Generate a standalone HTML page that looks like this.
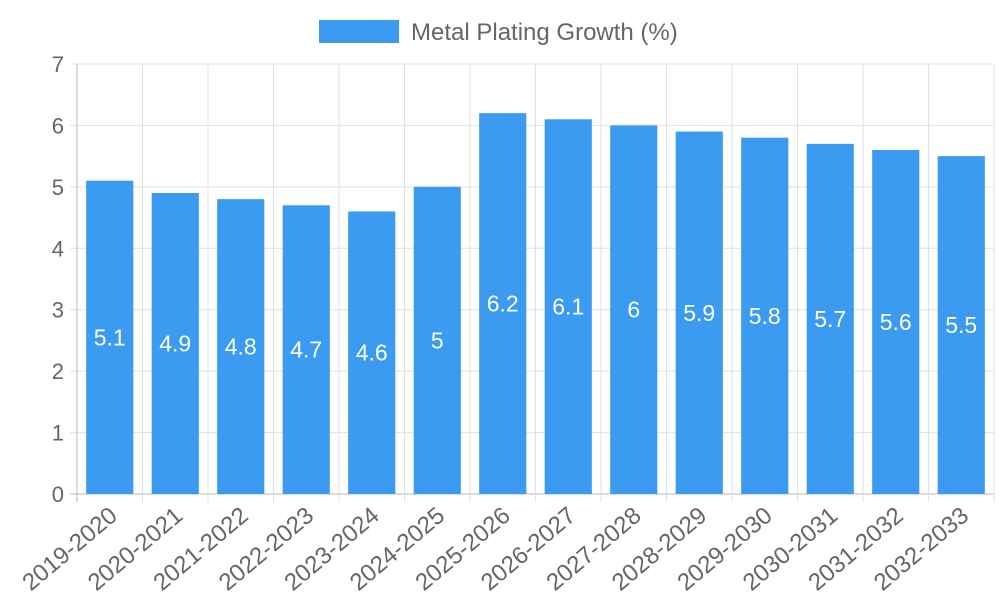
<!DOCTYPE html>
<html><head><meta charset="utf-8"><style>
body{margin:0;background:#fff;}
svg text{font-family:"Liberation Sans",sans-serif;}
</style></head><body>
<svg id="chart" width="1000" height="600" xmlns="http://www.w3.org/2000/svg">
<g id="legend">
<rect x="319" y="20" width="80" height="23" fill="#3a9bf0"/>
<text x="411" y="40" font-size="24" fill="#666">Metal Plating Growth (%)</text>
</g>
<g id="grid"></g><g id="bars"></g><g id="labels"></g>
</svg>
<script>
const categories=["2019-2020","2020-2021","2021-2022","2022-2023","2023-2024","2024-2025","2025-2026","2026-2027","2027-2028","2028-2029","2029-2030","2030-2031","2031-2032","2032-2033"];
const values=[5.1,4.9,4.8,4.7,4.6,5,6.2,6.1,6,5.9,5.8,5.7,5.6,5.5];
const yTicks=[0,1,2,3,4,5,6,7];
const NS="http://www.w3.org/2000/svg";
const L=77,R=994,T=64,B=494,yMax=7;
const band=(R-L)/categories.length;
const y=v=>B-(v/yMax)*(B-T);
const x=i=>L+band*i;
function mk(tag,attrs,parent){const e=document.createElementNS(NS,tag);for(const k in attrs)e.setAttribute(k,attrs[k]);parent.appendChild(e);return e;}
const grid=document.getElementById('grid'),bars=document.getElementById('bars'),labels=document.getElementById('labels');
yTicks.forEach(t=>{
 const ln=mk('line',{x1:L-7,x2:R,y1:y(t),y2:y(t),stroke:t===0?'#bbb':'#e0e0e0','stroke-width':1},grid);
 
 
 const tx=mk('text',{x:L-13,y:y(t)+8,'text-anchor':'end','font-size':22,fill:'#666'},grid);
 tx.textContent=t;
 
 
});
for(let i=0;i<=categories.length;i++){
 const ln=mk('line',{x1:x(i),x2:x(i),y1:T,y2:B+8,stroke:i===0?'#bbb':'#e0e0e0','stroke-width':1},grid);
 
 
}
const bw=band*0.72;
categories.forEach((c,i)=>{
 const cx=x(i)+band/2;
 const r=mk('rect',{x:cx-bw/2,y:y(values[i]),width:bw,height:B-y(values[i]),fill:'#3a9bf0'},bars);
 
 
 const v=mk('text',{x:cx,y:(y(values[i])+B)/2+8,'text-anchor':'middle','font-size':23,fill:'#fff'},labels);
 v.textContent=values[i];
 
 
 const ax=cx+9,ay=B+24;
 const t=mk('text',{x:ax,y:ay,'text-anchor':'end','font-size':24,fill:'#666',transform:`rotate(-40 ${ax} ${ay})`},labels);
 t.textContent=c;
 
 
});
</script>
</body></html>
